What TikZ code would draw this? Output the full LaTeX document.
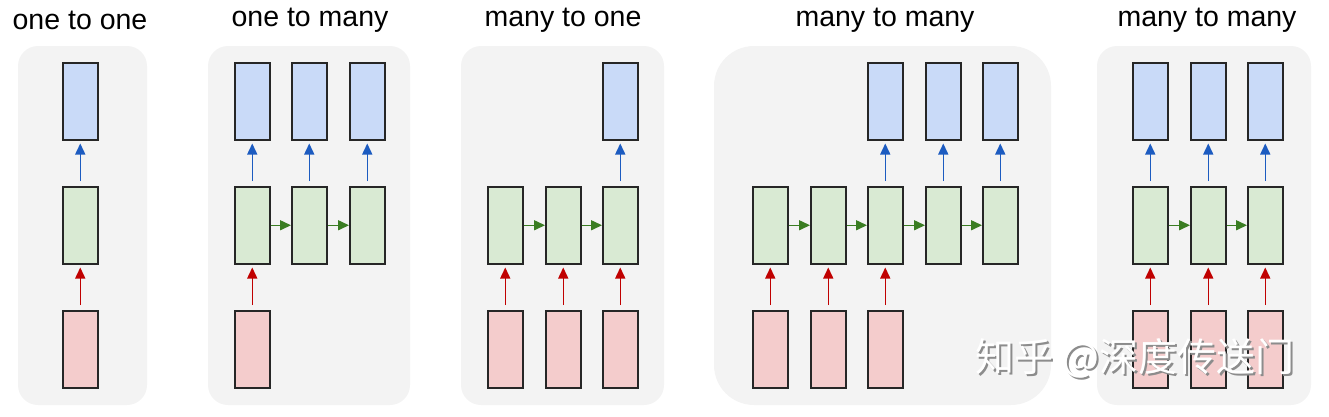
\documentclass[tikz,border=0pt]{standalone}
\usepackage{fontspec}
\setmainfont{Liberation Sans}
\newfontfamily\cjk{Noto Sans CJK SC}
\usetikzlibrary{arrows.meta}
\definecolor{pan}{HTML}{F3F3F3}
\definecolor{bl}{HTML}{C9DAF8}
\definecolor{gr}{HTML}{D9EAD3}
\definecolor{rd}{HTML}{F4CCCC}
\definecolor{ab}{HTML}{1C5BC0}
\definecolor{ag}{HTML}{3A7D22}
\definecolor{ar}{HTML}{C00000}
\begin{document}
\begin{tikzpicture}[x=1pt,y=-1pt,
  panel/.style={fill=pan,draw=none,rounded corners=20pt},
  box/.style={draw=black!85,line width=1.5pt,minimum width=35pt,minimum height=77pt,inner sep=0pt,anchor=north west},
  bbox/.style={box,fill=bl}, gbox/.style={box,fill=gr}, rbox/.style={box,fill=rd},
  arr/.style={line width=1.5pt,-{Triangle[length=11pt,width=10pt]},shorten <=5pt,shorten >=3pt},
  title/.style={font=\fontsize{28.5}{30}\selectfont,anchor=center}]
\useasboundingbox (0,0) rectangle (1329,416);
\fill[panel] (18,46) rectangle (147,405);
\fill[panel] (208,46) rectangle (410,405);
\fill[panel] (461,46) rectangle (664,405);
\fill[panel,rounded corners=40pt] (714,46) rectangle (1051,405);
\fill[panel] (1097,46) rectangle (1311,405);
\node[title] (t1) at (80,20) {one to one};
\node[title] (t2) at (310,20) {one to many};
\node[title] (t3) at (563,20) {many to one};
\node[title] (t4) at (885,20) {many to many};
\node[title] (t5) at (1207,20) {many to many};
% one to one
\node[bbox] (a1b) at (62,62) {};
\node[gbox] (a1g) at (62,186) {};
\node[rbox] (a1r) at (62,310) {};
\draw[arr,ab] (a1g) -- (a1b);
\draw[arr,ar] (a1r) -- (a1g);
% one to many
\foreach \i/\x in {1/234,2/291,3/349}{
  \node[bbox] (b\i b) at (\x,62) {};
  \node[gbox] (b\i g) at (\x,186) {};
  \draw[arr,ab] (b\i g) -- (b\i b);
}
\node[rbox] (b1r) at (234,310) {};
\draw[arr,ar] (b1r) -- (b1g);
\draw[arr,ag,shorten <=0pt,shorten >=0pt] (b1g) -- (b2g);
\draw[arr,ag,shorten <=0pt,shorten >=0pt] (b2g) -- (b3g);
% many to one
\foreach \i/\x in {1/487,2/545,3/602}{
  \node[gbox] (c\i g) at (\x,186) {};
  \node[rbox] (c\i r) at (\x,310) {};
  \draw[arr,ar] (c\i r) -- (c\i g);
}
\node[bbox] (c3b) at (602,62) {};
\draw[arr,ab] (c3g) -- (c3b);
\draw[arr,ag,shorten <=0pt,shorten >=0pt] (c1g) -- (c2g);
\draw[arr,ag,shorten <=0pt,shorten >=0pt] (c2g) -- (c3g);
% many to many (1)
\foreach \i/\x in {1/752,2/810,3/867,4/925,5/982}{
  \node[gbox] (d\i g) at (\x,186) {};
}
\foreach \i/\x in {1/752,2/810,3/867}{
  \node[rbox] (d\i r) at (\x,310) {};
  \draw[arr,ar] (d\i r) -- (d\i g);
}
\foreach \i/\x in {3/867,4/925,5/982}{
  \node[bbox] (d\i b) at (\x,62) {};
  \draw[arr,ab] (d\i g) -- (d\i b);
}
\foreach \i/\j in {1/2,2/3,3/4,4/5}{
  \draw[arr,ag,shorten <=0pt,shorten >=0pt] (d\i g) -- (d\j g);
}
% many to many (2)
\foreach \i/\x in {1/1132,2/1190,3/1247}{
  \node[bbox] (e\i b) at (\x,62) {};
  \node[gbox] (e\i g) at (\x,186) {};
  \node[rbox] (e\i r) at (\x,310) {};
  \draw[arr,ab] (e\i g) -- (e\i b);
  \draw[arr,ar] (e\i r) -- (e\i g);
}
\draw[arr,ag,shorten <=0pt,shorten >=0pt] (e1g) -- (e2g);
\draw[arr,ag,shorten <=0pt,shorten >=0pt] (e2g) -- (e3g);
% watermark
\node[font=\cjk\fontsize{39}{42}\selectfont,text=black!45,anchor=center] (wms) at (1137,360) {知乎 @深度传送门};
\node[font=\cjk\fontsize{39}{42}\selectfont,text=white,anchor=center] (wm) at (1135,358) {知乎 @深度传送门};
\end{tikzpicture}
\end{document}
